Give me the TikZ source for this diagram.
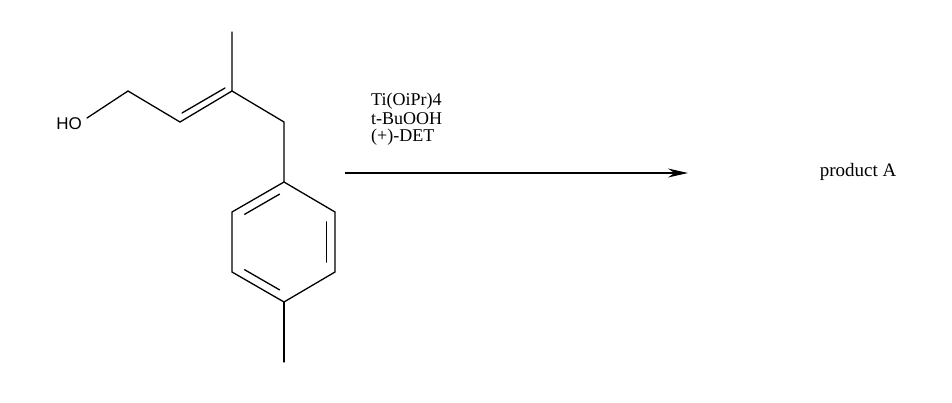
\documentclass[tikz,border=0pt]{standalone}
\usepackage{fontspec}
\setmainfont{Liberation Serif}
\newfontfamily\arial{Liberation Sans}
\usetikzlibrary{arrows.meta,calc}
\begin{document}
\begin{tikzpicture}[x=1pt,y=-1pt,bond/.style={line width=1.3pt,line cap=round,line join=miter},
  lbl/.style={font=\fontsize{18}{20}\selectfont,inner sep=0pt,anchor=west}]
\useasboundingbox (0,0) rectangle (952,402);
\node[font=\arial\fontsize{17}{19}\selectfont,inner sep=0pt] (ho) at (69,124) {HO};
\coordinate (o) at (87,118);
\coordinate (c1) at (128,91);
\coordinate (c2) at (180,122);
\coordinate (c3) at (232,91);
\coordinate (me1) at (232,32);
\coordinate (c4) at (284,122);
\coordinate (r1) at (284,182);
\coordinate (r2) at (335,212);
\coordinate (r3) at (335,272);
\coordinate (r4) at (284,302);
\coordinate (r5) at (232,272);
\coordinate (r6) at (232,212);
\coordinate (me2) at (284,362);
\coordinate (ctr) at (283.7,242);
\draw[bond] (o)--(c1)--(c2)--(c3)--(me1);
\draw[bond] (c3)--(c4)--(r1);
\draw[bond] (r1)--(r2)--(r3)--(r4)--(r5)--(r6)--cycle;
\draw[bond] (r4)--(me2);
\draw[bond] (182,113)--(225,88);
\foreach \a/\b in {r1/r6,r2/r3,r4/r5}{
  \coordinate (ia) at ($(ctr)!0.84!(\a)$);
  \coordinate (ib) at ($(ctr)!0.84!(\b)$);
  \draw[bond] ($(ia)!0.1!(ib)$)--($(ib)!0.1!(ia)$);
}
\node[lbl] (t1) at (371,101) {Ti(OiPr)4};
\node[lbl] (t2) at (371,119) {t-BuOOH};
\node[lbl] (t3) at (371,137) {(+)-DET};
\coordinate (as) at (345,173);
\node[lbl,anchor=center,font=\fontsize{19}{21}\selectfont] (pa) at (858,172) {product A};
\draw[line width=1.3pt,-{Stealth[length=20pt,width=9pt]}] (as)--(688,173);
\end{tikzpicture}
\end{document}
